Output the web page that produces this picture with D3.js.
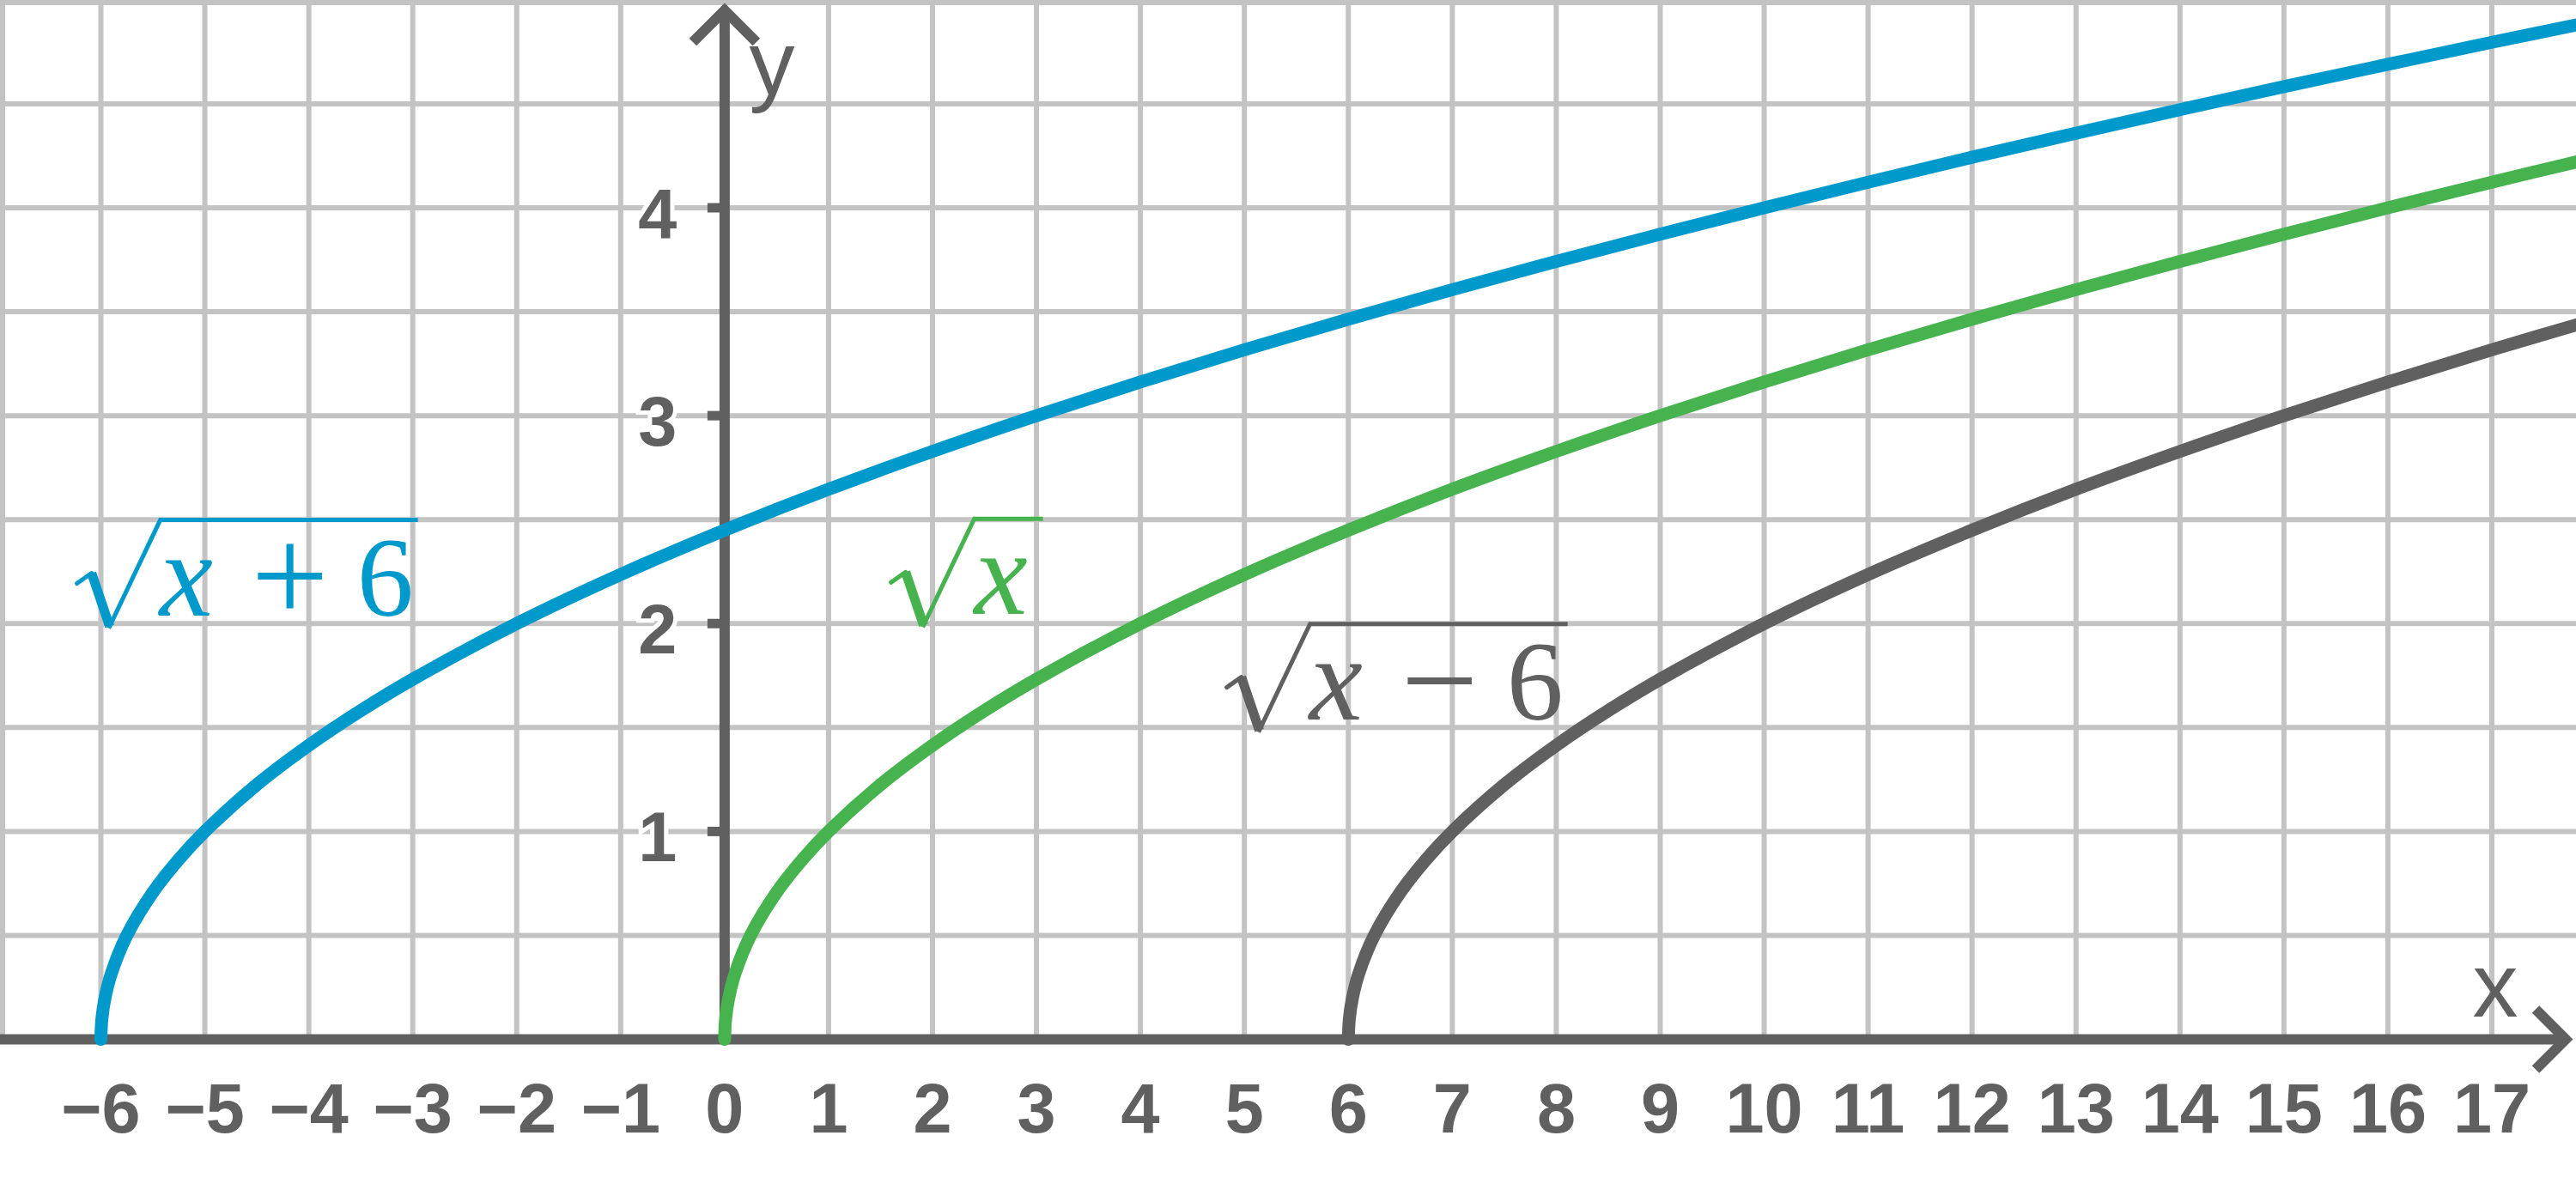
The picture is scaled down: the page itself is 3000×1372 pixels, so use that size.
<html>
<head>
<meta charset="utf-8">
<script src="https://d3js.org/d3.v7.min.js"></script>
<style>
  body { margin: 0; background: white; }
  svg { display: block; }
</style>
</head>
<body>
<svg width="3000" height="1372"></svg>
<script>
// tick labels
const xTicks = [-6, -5, -4, -3, -2, -1, 0, 1, 2, 3, 4, 5, 6, 7, 8, 9, 10, 11, 12, 13, 14, 15, 16, 17];
const yTicks = [1, 2, 3, 4];

// sqrt(x + 6)
const blueX = [-6, -5.99, -5.96, -5.9, -5.75, -5.5, -5.25, -5, -4.5, -4, -3.5, -3, -2, -1, 0, 1, 2, 3, 4, 5, 6, 7, 8, 9, 10, 11, 12, 13, 14, 15, 16, 17, 18];
const blueY = [0, 0.1, 0.2, 0.316, 0.5, 0.707, 0.866, 1, 1.225, 1.414, 1.581, 1.732, 2, 2.236, 2.449, 2.646, 2.828, 3, 3.162, 3.317, 3.464, 3.606, 3.742, 3.873, 4, 4.123, 4.243, 4.359, 4.472, 4.583, 4.69, 4.796, 4.899];

// sqrt(x)
const greenX = [0, 0.01, 0.04, 0.1, 0.25, 0.5, 0.75, 1, 1.5, 2, 2.5, 3, 4, 5, 6, 7, 8, 9, 10, 11, 12, 13, 14, 15, 16, 17, 18];
const greenY = [0, 0.1, 0.2, 0.316, 0.5, 0.707, 0.866, 1, 1.225, 1.414, 1.581, 1.732, 2, 2.236, 2.449, 2.646, 2.828, 3, 3.162, 3.317, 3.464, 3.606, 3.742, 3.873, 4, 4.123, 4.243];

// sqrt(x - 6)
const grayX = [6, 6.01, 6.04, 6.1, 6.25, 6.5, 6.75, 7, 7.5, 8, 8.5, 9, 10, 11, 12, 13, 14, 15, 16, 17, 18];
const grayY = [0, 0.1, 0.2, 0.316, 0.5, 0.707, 0.866, 1, 1.225, 1.414, 1.581, 1.732, 2, 2.236, 2.449, 2.646, 2.828, 3, 3.162, 3.317, 3.464];

const BLUE = "#0099cc", GREEN = "#46b34f", GRAY = "#606060", GRID = "#c3c3c3";

const svg = d3.select('svg');
const W = 3000;

var x = d3.scaleLinear().domain([-6, 17]).range([117.5, 2902]);
var y = d3.scaleLinear().domain([0, 4]).range([1210.5, 242]);

// grid
const grid = svg.append("g");
grid.selectAll("line.v")
  .data(d3.range(-7, 18))
  .enter().append("line")
  .attr("x1", d => x(d)).attr("x2", d => x(d))
  .attr("y1", y(0)).attr("y2", 0)
  .attr("stroke", GRID).attr("stroke-width", 6);
grid.selectAll("line.h")
  .data(d3.range(1, 11).map(d => d / 2))
  .enter().append("line")
  .attr("x1", 0).attr("x2", W)
  .attr("y1", d => y(d)).attr("y2", d => y(d))
  .attr("stroke", GRID).attr("stroke-width", 6);
// frame on the left and top edge
grid.append("line").attr("x1", 3).attr("x2", 3).attr("y1", 0).attr("y2", y(0))
  .attr("stroke", GRID).attr("stroke-width", 6);
grid.append("line").attr("x1", 0).attr("x2", W).attr("y1", 3).attr("y2", 3)
  .attr("stroke", GRID).attr("stroke-width", 6);

// axes
const ax = svg.append("g").attr("stroke", GRAY).attr("fill", "none").attr("stroke-width", 12);
const xEnd = W - 12;
ax.append("line").attr("x1", 0).attr("x2", xEnd - 4).attr("y1", y(0)).attr("y2", y(0));
ax.append("polyline")
  .attr("points", [[xEnd - 35, y(0) - 35], [xEnd, y(0)], [xEnd - 35, y(0) + 35]].join(" "));
const yTop = 12;
ax.append("line").attr("x1", x(0)).attr("x2", x(0)).attr("y1", y(0)).attr("y2", yTop + 4);
ax.append("polyline")
  .attr("points", [[x(0) - 37, yTop + 37], [x(0), yTop], [x(0) + 37, yTop + 37]].join(" "));

// y ticks
svg.append("g").selectAll("line")
  .data(yTicks)
  .enter().append("line")
  .attr("x1", x(0) - 20).attr("x2", x(0))
  .attr("y1", d => y(d)).attr("y2", d => y(d))
  .attr("stroke", GRAY).attr("stroke-width", 11);

const tickFont = "'Liberation Sans', Arial, Helvetica, sans-serif";
svg.append("g").selectAll("text")
  .data(yTicks)
  .enter().append("text")
  .attr("x", x(0) - 78)
  .attr("y", d => y(d) + 35)
  .attr("text-anchor", "middle")
  .style("font-family", tickFont).style("font-weight", "bold").style("font-size", "81px")
  .attr("fill", GRAY)
  .attr("stroke", "white").attr("stroke-width", 10).attr("paint-order", "stroke")
  .text(d => d);

svg.append("g").selectAll("text")
  .data(xTicks)
  .enter().append("text")
  .attr("x", d => x(d))
  .attr("y", y(0) + 108)
  .attr("text-anchor", "middle")
  .style("font-family", tickFont).style("font-weight", "bold").style("font-size", "81px")
  .attr("fill", GRAY)
  .text(d => d < 0 ? "\u2212" + Math.abs(d) : d);

// axis names
svg.append("text").attr("x", x(17) + 4).attr("y", y(0) - 27)
  .attr("text-anchor", "middle")
  .style("font-family", tickFont).style("font-size", "106px").attr("fill", GRAY)
  .text("x");
svg.append("text").attr("x", x(0) + 55).attr("y", 110)
  .attr("text-anchor", "middle")
  .style("font-family", tickFont).style("font-size", "106px").attr("fill", GRAY)
  .text("y");

// curves
const line = d3.line()
  .x(d => x(d[0]))
  .y(d => y(d[1]))
  .curve(d3.curveCatmullRom.alpha(0.5));

const curves = [
  { xs: blueX, ys: blueY, color: BLUE },
  { xs: greenX, ys: greenY, color: GREEN },
  { xs: grayX, ys: grayY, color: GRAY }
];
svg.append("g").selectAll("path")
  .data(curves)
  .enter().append("path")
  .attr("d", c => line(c.xs.map((v, i) => [v, c.ys[i]])))
  .attr("fill", "none")
  .attr("stroke", c => c.color)
  .attr("stroke-width", 15)
  .attr("stroke-linecap", "round")
  .attr("stroke-linejoin", "round");

// formula labels: radical sign drawn as a path, the rest as text
const mathFont = "'Liberation Serif', 'Times New Roman', serif";
function radical(x0, base, barEnd, color, parts) {
  const g = svg.append("g").attr("fill", "none").attr("stroke", color);
  g.append("path")
    .attr("d", "M" + x0 + "," + (base - 37) + "L" + (x0 + 17) + "," + (base - 49))
    .attr("stroke-width", 5).attr("stroke-linecap", "round");
  g.append("path")
    .attr("d", "M" + (x0 + 17) + "," + (base - 49) + "L" + (x0 + 38) + "," + (base + 13))
    .attr("stroke-width", 11);
  g.append("path")
    .attr("d", "M" + (x0 + 37) + "," + (base + 15) + "L" + (x0 + 97) + "," + (base - 111) +
      "L" + (x0 + barEnd) + "," + (base - 111))
    .attr("stroke-width", 5).attr("stroke-linejoin", "miter");

  const t = svg.append("text").attr("fill", color).style("font-family", mathFont);
  parts.forEach(p => {
    t.append("tspan")
      .attr("x", x0 + p.dx)
      .attr("y", base + (p.op ? 8 : 0))
      .attr("text-anchor", p.anchor)
      .style("font-style", p.italic ? "italic" : "normal")
      .style("font-size", p.op ? "160px" : (p.italic ? "140px" : "132px"))
      .text(p.s);
  });
}

radical(x(-6.23), y(2.04), 397, BLUE, [
  { s: "x", dx: 96, anchor: "start", italic: true },
  { s: "+", dx: 248, anchor: "middle", op: true },
  { s: "6", dx: 359, anchor: "middle" }
]);
radical(x(1.6), y(2.045), 177, GREEN, [
  { s: "x", dx: 97, anchor: "start", italic: true }
]);
radical(x(4.83), y(1.54), 397, GRAY, [
  { s: "x", dx: 96, anchor: "start", italic: true },
  { s: "\u2212", dx: 248, anchor: "middle", op: true },
  { s: "6", dx: 359, anchor: "middle" }
]);
</script>
</body>
</html>
